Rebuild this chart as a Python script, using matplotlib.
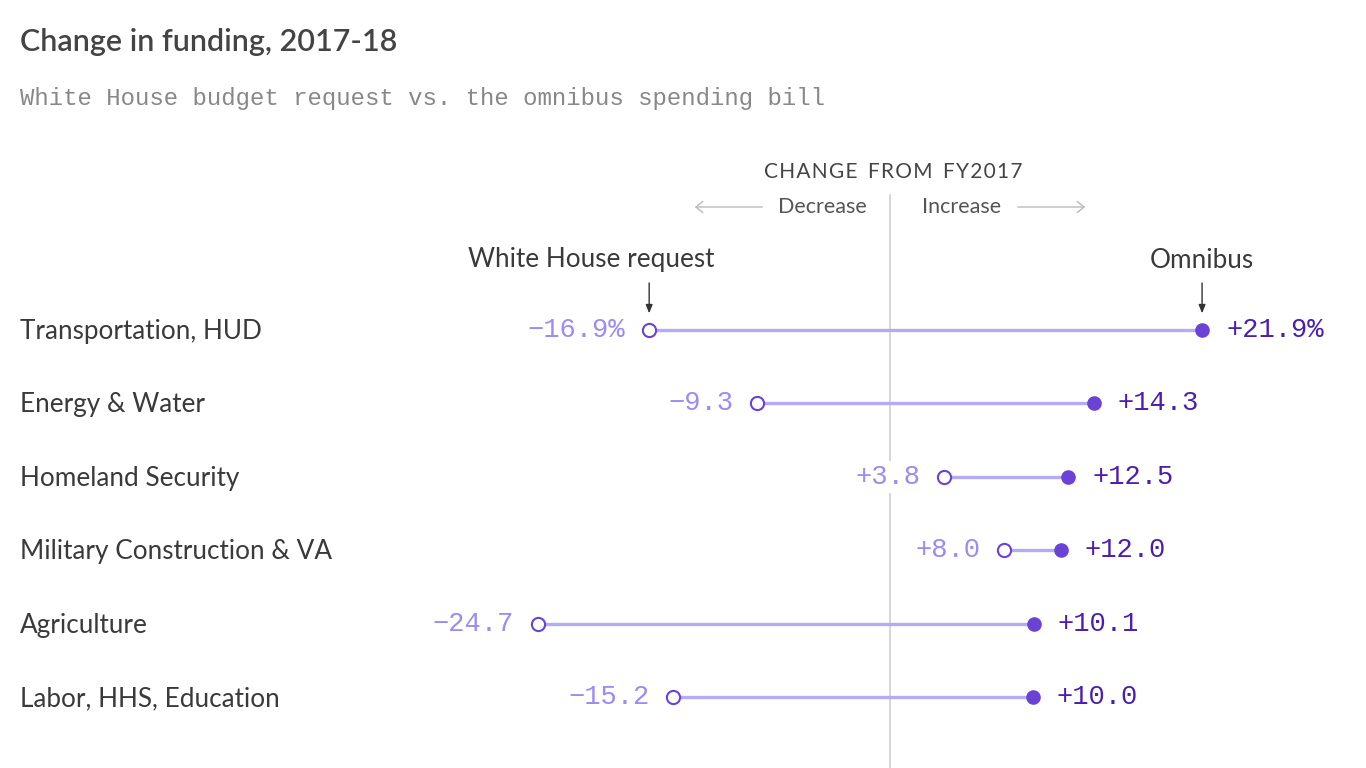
import matplotlib
matplotlib.use("Agg")
import matplotlib.pyplot as plt

# Дані
categories = ["Transportation, HUD", "Energy & Water", "Homeland Security",
              "Military Construction & VA", "Agriculture", "Labor, HHS, Education"]
wh_request = [-16.9, -9.3, 3.8, 8.0, -24.7, -15.2]
omnibus = [21.9, 14.3, 12.5, 12.0, 10.1, 10.0]
wh_labels = ["\u221216.9%", "\u22129.3", "+3.8", "+8.0", "\u221224.7", "\u221215.2"]
om_labels = ["+21.9%", "+14.3", "+12.5", "+12.0", "+10.1", "+10.0"]

W, H = 1366, 768
zero_px, px_per_unit = 890, 14.25
row0_px, row_step = 330, 73.4

sans = "Lato"
mono = "Liberation Mono"
light_purple = "#9d8af2"
dark_purple = "#4a1fb0"
dot_color = "#6a43d6"
line_color = "#b5aaf6"
text_color = "#3a3a3a"

fig = plt.figure(figsize=(W / 100, H / 100), dpi=100)
ax = fig.add_axes([0, 0, 1, 1])
ax.set_xlim(-zero_px / px_per_unit, (W - zero_px) / px_per_unit)
ax.set_ylim((H - row0_px) / row_step, -row0_px / row_step)
ax.axis("off")

# Нульова лінія
ax.axvline(0, ymin=0, ymax=1 - 195 / H, color="#d0d0d0", lw=1.2, zorder=0)

for i, cat in enumerate(categories):
    a, b = wh_request[i], omnibus[i]
    ax.plot([a, b], [i, i], color=line_color, lw=2.4, zorder=2, solid_capstyle="butt")
    ax.plot(a, i, "o", ms=9.5, mfc="white", mec=dot_color, mew=1.5, zorder=3)
    ax.plot(b, i, "o", ms=9.5, mfc=dot_color, mec=dot_color, zorder=3)
    ax.annotate(wh_labels[i], xy=(a, i), xytext=(-24, 0), textcoords="offset pixels",
                ha="right", va="center", fontsize=19.5, family=mono, color=light_purple,
                bbox=dict(boxstyle="square,pad=0.1", fc="white", ec="none"), zorder=4)
    ax.annotate(om_labels[i], xy=(b, i), xytext=(24, 0), textcoords="offset pixels",
                ha="left", va="center", fontsize=19.5, family=mono, color=dark_purple, zorder=4)
    ax.text(20 / W, i + 0.02, cat, transform=ax.get_yaxis_transform(), ha="left", va="center",
            fontsize=18.8, family=sans, color=text_color)

# Заголовки
fig.text(20 / W, 1 - 42 / H, "Change in funding, 2017-18", ha="left", va="center",
         fontsize=22, family=sans, fontweight="semibold", color="#444444")
fig.text(20 / W, 1 - 98 / H, "White House budget request vs. the omnibus spending bill",
         ha="left", va="center", fontsize=17.25, family=mono, color="#888888")

fig.text((zero_px + 3) / W, 1 - 172 / H,
         "C H A N G E   F R O M   F Y 2 0 1 7".replace("   ", "\u2002").replace(" ", "\u200a"),
         ha="center", va="center", fontsize=15, family=sans, color="#444444")
fig.text((zero_px - 23) / W, 1 - 207 / H, "Decrease", ha="right", va="center",
         fontsize=15.5, family=sans, color="#555555")
fig.text((zero_px + 32) / W, 1 - 207 / H, "Increase", ha="left", va="center",
         fontsize=15.5, family=sans, color="#555555")
fig.add_artist(matplotlib.patches.FancyArrowPatch(
    (765 / W, 1 - 207 / H), (692 / W, 1 - 207 / H), transform=fig.transFigure,
    arrowstyle="->,head_length=5,head_width=4", color="#bbbbbb", lw=1))
fig.add_artist(matplotlib.patches.FancyArrowPatch(
    (1015 / W, 1 - 207 / H), (1088 / W, 1 - 207 / H), transform=fig.transFigure,
    arrowstyle="->,head_length=5,head_width=4", color="#bbbbbb", lw=1))

# Легенда над першим рядком
ax.annotate("White House request", xy=(wh_request[0], 0), xytext=(-58, 70),
            textcoords="offset pixels", ha="center", va="center", fontsize=18.8,
            family=sans, color=text_color)
ax.annotate("Omnibus", xy=(omnibus[0], 0), xytext=(0, 70),
            textcoords="offset pixels", ha="center", va="center", fontsize=18.8,
            family=sans, color=text_color)
for v in (wh_request[0], omnibus[0]):
    ax.annotate("", xy=(v, 0), xytext=(0, 47), textcoords="offset pixels",
                arrowprops=dict(arrowstyle="-|>,head_length=0.5,head_width=0.2",
                                color="#333333", lw=1, shrinkA=0, shrinkB=12))

fig.savefig("out.png", dpi=100)
